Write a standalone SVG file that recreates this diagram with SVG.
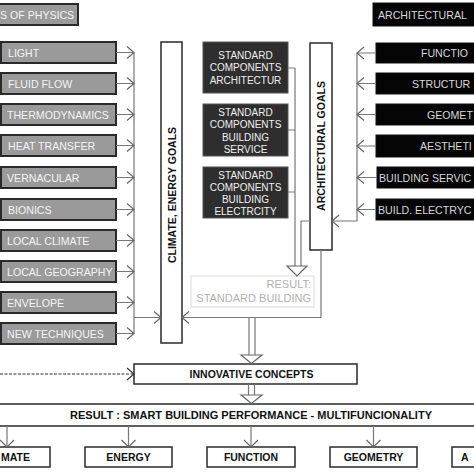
<svg xmlns="http://www.w3.org/2000/svg" width="474" height="474" viewBox="0 0 474 474">
<style>
.gb{fill:#9a9a9a;stroke:#2a2a2a;stroke-width:2}
.gt{font-family:"Liberation Sans",Arial,sans-serif;font-size:10.6px;fill:#f4f4f4}
.bb{fill:#050505;stroke:#111;stroke-width:1}
.bt{font-family:"Liberation Sans",Arial,sans-serif;font-size:10.6px;fill:#d8d8d8}
.sb{fill:#2e2e2e;stroke:#555;stroke-width:1}
.st{font-family:"Liberation Sans",Arial,sans-serif;font-size:10px;fill:#f0f0f0;text-anchor:middle}
.wb{fill:#fff;stroke:#2a2a2a;stroke-width:1.5}
.wt{font-family:"Liberation Sans",Arial,sans-serif;font-size:10.5px;font-weight:bold;fill:#111;text-anchor:middle}
.ln{fill:none;stroke:#777;stroke-width:1.2}
.ch{fill:none;stroke:#666;stroke-width:1.2}
.tri{fill:#fff;stroke:#666;stroke-width:1.2}
</style>

<g id="header-physics">
<rect class="gb" x="-10" y="4" width="88" height="21"/>
<text class="gt" x="0" y="18.5">S OF PHYSICS</text>
</g>
<g id="header-architectural">
<rect class="bb" x="373" y="3" width="120" height="23"/>
<text class="bt" x="378" y="18.5">ARCHITECTURAL</text>
</g>

<g id="light"><rect class="gb" x="1" y="42" width="115" height="21"/><text class="gt" x="8" y="56.5">LIGHT</text></g>
<g id="fluid-flow"><rect class="gb" x="1" y="73" width="115" height="21"/><text class="gt" x="8" y="87.5">FLUID FLOW</text></g>
<g id="thermodynamics"><rect class="gb" x="1" y="104" width="115" height="21"/><text class="gt" x="7" y="118.5">THERMODYNAMICS</text></g>
<g id="heat-transfer"><rect class="gb" x="1" y="135" width="115" height="21"/><text class="gt" x="8" y="149.5">HEAT TRANSFER</text></g>
<g id="vernacular"><rect class="gb" x="1" y="167" width="115" height="21"/><text class="gt" x="7" y="181.5">VERNACULAR</text></g>
<g id="bionics"><rect class="gb" x="1" y="199" width="115" height="21"/><text class="gt" x="8" y="213.5">BIONICS</text></g>
<g id="local-climate"><rect class="gb" x="1" y="230" width="115" height="21"/><text class="gt" x="7" y="244.5">LOCAL CLIMATE</text></g>
<g id="local-geography"><rect class="gb" x="1" y="261" width="115" height="21"/><text class="gt" x="7" y="275.5">LOCAL GEOGRAPHY</text></g>
<g id="envelope"><rect class="gb" x="1" y="292" width="115" height="21"/><text class="gt" x="7" y="306.5">ENVELOPE</text></g>
<g id="new-techniques"><rect class="gb" x="1" y="323" width="115" height="21"/><text class="gt" x="7" y="337.5">NEW TECHNIQUES</text></g>

<g id="climate-energy-goals">
<rect class="wb" x="161" y="42" width="21" height="301"/>
<text class="wt" x="171.5" y="199" transform="rotate(-90 171.5 195)">CLIMATE, ENERGY GOALS</text>
</g>
<g id="architectural-goals">
<rect class="wb" x="310" y="43" width="22" height="207"/>
<text class="wt" x="321" y="150" transform="rotate(-90 321 146)">ARCHITECTURAL GOALS</text>
</g>

<g id="std-architectur">
<rect class="sb" x="203" y="42" width="85" height="51"/>
<text class="st" x="245.5" y="58.5">STANDARD</text>
<text class="st" x="245.5" y="71">COMPONENTS</text>
<text class="st" x="245.5" y="83.5">ARCHITECTUR</text>
</g>
<g id="std-building-service">
<rect class="sb" x="203" y="104" width="85" height="52"/>
<text class="st" x="245.5" y="115.5">STANDARD</text>
<text class="st" x="245.5" y="128">COMPONENTS</text>
<text class="st" x="245.5" y="140.5">BUILDING</text>
<text class="st" x="245.5" y="152.5">SERVICE</text>
</g>
<g id="std-building-electricity">
<rect class="sb" x="203" y="167" width="85" height="51"/>
<text class="st" x="245.5" y="179">STANDARD</text>
<text class="st" x="245.5" y="191">COMPONENTS</text>
<text class="st" x="245.5" y="203">BUILDING</text>
<text class="st" x="245.5" y="215">ELECTRCITY</text>
</g>

<g id="function"><rect class="bb" x="376" y="43" width="120" height="20"/><text class="bt" x="421" y="57">FUNCTIO</text></g>
<g id="structure"><rect class="bb" x="376" y="73" width="120" height="21"/><text class="bt" x="412" y="87.5">STRUCTUR</text></g>
<g id="geometry-r"><rect class="bb" x="376" y="104" width="120" height="21"/><text class="bt" x="427" y="118.5">GEOMET</text></g>
<g id="aesthetics-r"><rect class="bb" x="376" y="135" width="120" height="22"/><text class="bt" x="420" y="150">AESTHETI</text></g>
<g id="building-service"><rect class="bb" x="377" y="167" width="120" height="21"/><text class="bt" x="379" y="181.5">BUILDING SERVIC</text></g>
<g id="build-electrycity"><rect class="bb" x="376" y="199" width="120" height="21"/><text class="bt" x="378" y="213.5">BUILD. ELECTRYC</text></g>

<g id="result-standard">
<rect x="191" y="276" width="123" height="31" fill="#fff" stroke="#e2e2e2" stroke-width="1.2"/>
<text x="311" y="288" font-family="'Liberation Sans',Arial,sans-serif" font-size="11" fill="#b0b0b0" text-anchor="end">RESULT:</text>
<text x="311" y="302" font-family="'Liberation Sans',Arial,sans-serif" font-size="11" fill="#b0b0b0" text-anchor="end">STANDARD BUILDING</text>
</g>

<g id="innovative-concepts">
<rect class="wb" x="134" y="364" width="223" height="20"/>
<text class="wt" x="251.5" y="378">INNOVATIVE CONCEPTS</text>
</g>
<g id="result-smart">
<rect class="wb" x="-5" y="404" width="485" height="22"/>
<text class="wt" x="251" y="419" style="font-size:11px">RESULT : SMART BUILDING PERFORMANCE - MULTIFUNCIONALITY</text>
</g>

<g id="climate-b"><rect class="wb" x="-37" y="447" width="87" height="20"/><text class="wt" x="1" y="461" style="text-anchor:start">MATE</text></g>
<g id="energy"><rect class="wb" x="85" y="447" width="87" height="20"/><text class="wt" x="128.5" y="461">ENERGY</text></g>
<g id="function-b"><rect class="wb" x="207" y="447" width="88" height="20"/><text class="wt" x="251" y="461">FUNCTION</text></g>
<g id="geometry-b"><rect class="wb" x="330" y="447" width="87" height="20"/><text class="wt" x="373.5" y="461">GEOMETRY</text></g>
<g id="aesthetics-b"><rect class="wb" x="452" y="447" width="87" height="20"/><text class="wt" x="461" y="461" style="text-anchor:start">A</text></g>

<g id="connectors">
<path class="ln" d="M116 52.5H134M116 83.5H134M116 114.5H134M116 145.5H134M116 177.5H134M116 209.5H134M116 240.5H134M116 271.5H134M116 302.5H134M116 333.5H134M134 52.5V333.5M134 317.5H161"/>
<path class="ch" d="M127 46.5L134 52.5L127 58.5M127 77.5L134 83.5L127 89.5M127 108.5L134 114.5L127 120.5M127 139.5L134 145.5L127 151.5M127 171.5L134 177.5L127 183.5M127 203.5L134 209.5L127 215.5M127 234.5L134 240.5L127 246.5M127 265.5L134 271.5L127 277.5M127 296.5L134 302.5L127 308.5M127 327.5L134 333.5L127 339.5M154 311.5L161 317.5L154 323.5"/>
<path class="ln" d="M376 53H357M376 83.5H357M376 114.5H357M376 146H357M377 177.5H357M376 209.5H357M357 53V221H332"/>
<path class="ch" d="M364 47L357 53L364 59M364 77.5L357 83.5L364 89.5M364 108.5L357 114.5L364 120.5M364 140L357 146L364 152M364 171.5L357 177.5L364 183.5M364 203.5L357 209.5L364 215.5M339 215L332 221L339 227"/>
<path class="ln" d="M321 250V317.5H182"/>
<path class="ch" d="M189 311.5L182 317.5L189 323.5"/>
<path class="ln" d="M288 68H295M288 130H295M288 192H295M295 68V266M310 221H301V266"/>
<polygon class="tri" points="287,266 307,266 297,276"/>
<path class="ln" d="M249 317.5V355M255 317.5V355"/>
<polygon class="tri" points="241,355 262,355 251.5,363.5"/>
<path d="M0 374H133" fill="none" stroke="#333" stroke-width="1.2" stroke-dasharray="3 1.5"/>
<path d="M127 368L134 374L127 380" fill="none" stroke="#333" stroke-width="1.2"/>
<path class="ln" d="M248.5 384V395M254.5 384V395"/>
<polygon class="tri" points="241,395 262,395 251.5,403.5"/>
<path class="ln" d="M7 426V447M128.5 426V447M251 426V447M373.5 426V447"/>
<path class="ch" d="M0 440L7 447L14 440M121.5 440L128.5 447L135.5 440M244 440L251 447L258 440M366.5 440L373.5 447L380.5 440"/>
</g>
</svg>
